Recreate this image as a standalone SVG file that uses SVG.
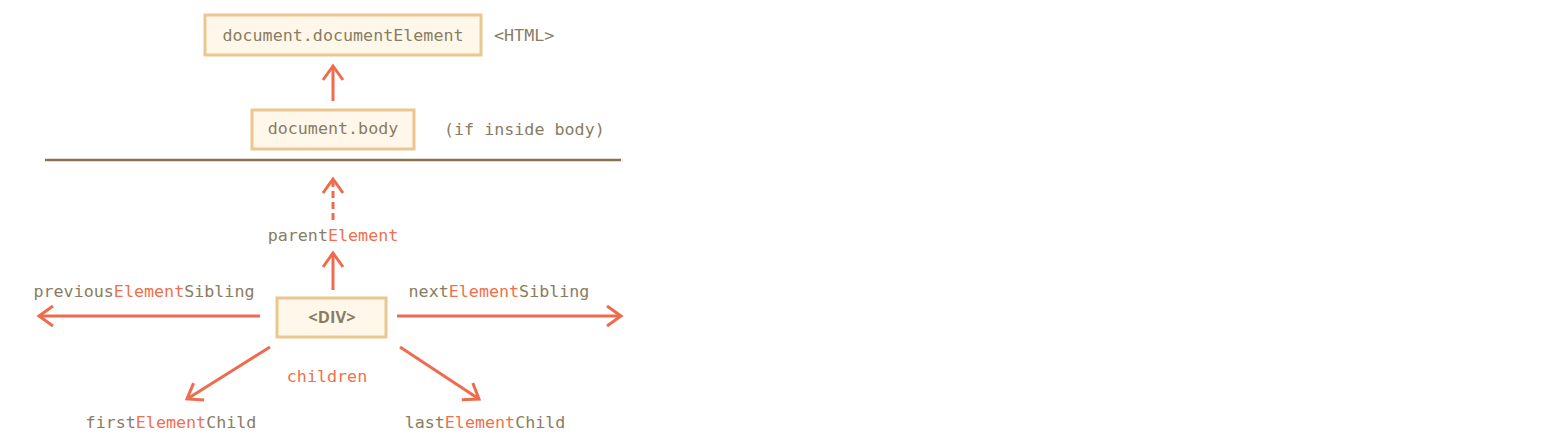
<svg xmlns="http://www.w3.org/2000/svg" width="1551" height="437" viewBox="0 0 1551 437">
<defs>
<style>
.box{fill:#FFF8EA;stroke:#EBC78F;stroke-width:3}
.t{font-family:"DejaVu Sans Mono","Liberation Mono",monospace;font-size:16.7px;fill:#8A7C62}
.o{fill:#F0704D}
.ln{stroke:#EE6C4D;stroke-width:3;fill:none}
</style>
<marker id="ah" markerUnits="userSpaceOnUse" markerWidth="40" markerHeight="40" viewBox="-20 -20 40 40" refX="0" refY="0" orient="auto">
<path d="M-14,-10 L0,0 L-14,10" fill="none" stroke="#EE6C4D" stroke-width="3"/>
</marker>
</defs>
<rect width="1551" height="437" fill="#FFFFFF"/>
<g id="docElem">
<rect class="box" x="205" y="15" width="276" height="40"/>
<text class="t" x="343" y="41" text-anchor="middle">document.documentElement</text>
</g>
<text class="t" x="494" y="41">&lt;HTML&gt;</text>
<g id="body">
<rect class="box" x="252" y="110" width="162" height="39"/>
<text class="t" x="333" y="134" text-anchor="middle">document.body</text>
</g>
<text class="t" x="444" y="135">(if inside body)</text>
<line x1="45" y1="160" x2="621" y2="160" stroke="#8B7152" stroke-width="2.5"/>
<g id="div">
<rect class="box" x="277" y="298" width="109" height="39"/>
<text x="332" y="323" text-anchor="middle" font-family="'Open Sans','DejaVu Sans',sans-serif" font-weight="bold" font-size="16.5" fill="#8A7C62">&lt;DIV&gt;</text>
</g>
<g id="connectors">
<line class="ln" x1="333" y1="101" x2="333" y2="66" marker-end="url(#ah)"/>
<line class="ln" x1="333" y1="220" x2="333" y2="179" stroke-dasharray="7,4" marker-end="url(#ah)"/>
<line class="ln" x1="333" y1="290" x2="333" y2="253" marker-end="url(#ah)"/>
<line class="ln" x1="260" y1="316" x2="39" y2="316" marker-end="url(#ah)"/>
<line class="ln" x1="397" y1="316" x2="621" y2="316" marker-end="url(#ah)"/>
<line class="ln" x1="270" y1="347" x2="187" y2="399" marker-end="url(#ah)"/>
<line class="ln" x1="400" y1="347" x2="479" y2="399" marker-end="url(#ah)"/>
</g>
<g id="labels">
<text class="t" x="333" y="241" text-anchor="middle">parent<tspan class="o">Element</tspan></text>
<text class="t" x="144" y="297" text-anchor="middle">previous<tspan class="o">Element</tspan>Sibling</text>
<text class="t" x="499" y="297" text-anchor="middle">next<tspan class="o">Element</tspan>Sibling</text>
<text class="t o" x="327" y="382" text-anchor="middle">children</text>
<text class="t" x="171" y="428" text-anchor="middle">first<tspan class="o">Element</tspan>Child</text>
<text class="t" x="485" y="428" text-anchor="middle">last<tspan class="o">Element</tspan>Child</text>
</g>
</svg>
